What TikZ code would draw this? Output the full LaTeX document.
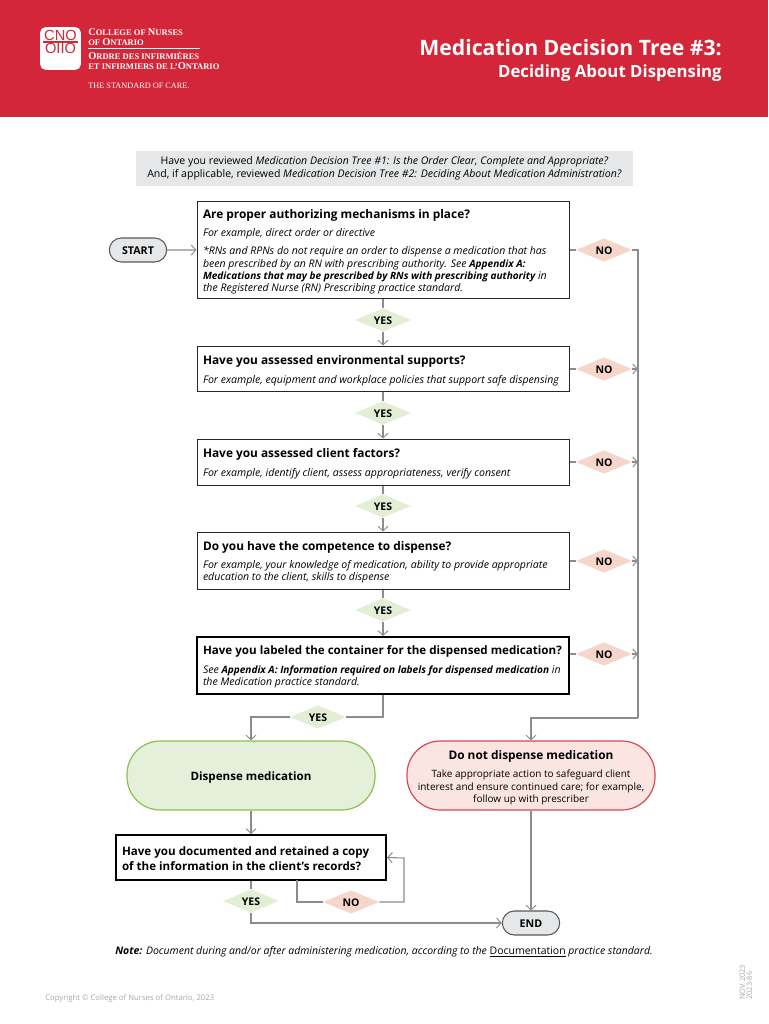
\documentclass[tikz,border=0pt]{standalone}
\usepackage{fontspec}
\setmainfont{Open Sans}
\newfontfamily\logofont{Liberation Serif}
\newfontfamily\logosans{Liberation Sans}
\usetikzlibrary{arrows.meta,shapes.geometric,shapes.misc}
\definecolor{cnored}{HTML}{D32638}
\definecolor{panelgrey}{HTML}{E6E7E8}
\definecolor{linegrey}{HTML}{8A8C8E}
\definecolor{yesfill}{HTML}{E3EED6}
\definecolor{nofill}{HTML}{F6D5CB}
\definecolor{greenline}{HTML}{8DC14F}
\definecolor{greenfill}{HTML}{E5F0DA}
\definecolor{redfill}{HTML}{FAE5E2}
\definecolor{textgrey}{HTML}{A7A9AC}
\newcommand{\hd}[1]{{\fontsize{8.9pt}{12pt}\selectfont\bfseries #1\par}}
\newcommand{\hdn}[1]{{\fontsize{8.7pt}{12pt}\selectfont\bfseries\mbox{#1}\par}}
\newcommand{\bd}{\fontsize{7.9pt}{9.2pt}\selectfont}
\newcommand{\bdb}[1]{{\fontsize{7.55pt}{9.2pt}\selectfont\bfseries #1}}
\newcommand{\qbox}[8]{% name, x1,y1,x2,y2, style, top pad, text
  \pgfmathsetmacro{\qw}{(#4-#2)*0.75}\pgfmathsetmacro{\qh}{(#5-#3)*0.75}%
  \pgfmathsetmacro{\qinner}{\qw-9}%
  \node[#6,minimum width=\qw pt,minimum height=\qh pt] (#1) at ({(#2+#4)/2},{(#3+#5)/2})
    {\parbox[c][\qh pt][t]{\qinner pt}{\raggedright\vspace{#7pt}#8}};}
\tikzset{
  question/.style={draw=black!85,line width=0.75pt,fill=white,inner sep=0pt,align=left},
  questionheavy/.style={question,draw=black,line width=1.5pt},
  conn/.style={draw=linegrey,line width=0.8pt},
  arr/.style={conn,-{Straight Barb[length=3.5pt,width=7.5pt,line width=0.7pt]}},
  yesd/.style={diamond,aspect=2.4,fill=yesfill,minimum width=42pt,minimum height=17.5pt,inner sep=0pt,text height=6pt,text depth=0pt,font=\fontsize{7.9pt}{9pt}\selectfont\bfseries},
  nod/.style={yesd,fill=nofill},
  term/.style={rounded rectangle,draw=black!65,line width=0.8pt,fill=panelgrey,minimum width=43pt,minimum height=18pt,inner sep=0pt,text height=6pt,text depth=0pt,font=\fontsize{8pt}{9pt}\selectfont\bfseries},
  outcome/.style={rectangle,rounded corners=25pt,line width=0.9pt,minimum width=186pt,minimum height=51.75pt,inner sep=0pt},
  logotext/.style={anchor=base west,inner sep=0pt,text=white,font=\logofont\bfseries\fontsize{6.4pt}{8pt}\selectfont},
  logomark/.style={inner sep=0pt,text=cnored,font=\logosans\fontsize{11pt}{11pt}\selectfont},
}
\newcommand{\lc}[1]{{\fontsize{7.8pt}{8pt}\selectfont #1}}
\begin{document}
\begin{tikzpicture}[x=0.75pt,y=-0.75pt]
\useasboundingbox (0,0) rectangle (768,1024);
\fill[white] (0,0) rectangle (768,1024);
\fill[cnored] (0,0) rectangle (768,117);
% logo
\node[draw=none,fill=white,rounded corners=4pt,minimum width=30.5pt,minimum height=32pt,inner sep=0pt] (logo) at (60.5,48.5) {};
\node[logomark] (logoa) at (60.5,35) {CNO};
\node[logomark] (logob) at (60.5,48.5) {OIIO};
\draw[cnored,line width=0.9pt] (43,42) -- (78,42);
\node[logotext] (l1) at (88,36) {\lc{C}OLLEGE OF \lc{N}URSES};
\node[logotext] (l2) at (88,46) {OF \lc{O}NTARIO};
\draw[white,line width=0.6pt] (88,48.5) -- (200,48.5);
\node[logotext] (l3) at (88,59.5) {\lc{O}RDRE DES INFIRMIÈRES};
\node[logotext] (l4) at (88,69.5) {ET INFIRMIERS DE L’\lc{O}NTARIO};
\node[logotext,font=\logofont\fontsize{6.2pt}{8pt}\selectfont] (l5) at (88,89) {THE STANDARD OF CARE.};
% title
\node[anchor=base east,inner sep=0pt,text=white,font=\fontsize{15.9pt}{20pt}\selectfont\bfseries] (title) at (722,55.5) {Medication Decision Tree \#3:};
\node[anchor=base east,inner sep=0pt,text=white,font=\fontsize{12.6pt}{16pt}\selectfont\bfseries] (subtitle) at (722,77.5) {Deciding About Dispensing};
% banner
\node[fill=panelgrey,minimum width=372.75pt,minimum height=26.25pt,inner sep=0pt,align=center,font=\fontsize{7.9pt}{9.6pt}\selectfont] (banner) at (384.5,168.5)
 {Have you reviewed \textit{Medication Decision Tree \#1: Is the Order Clear, Complete and Appropriate?}\\
  And, if applicable, reviewed \textit{Medication Decision Tree \#2: Deciding About Medication Administration?}};
% questions
\qbox{q1}{197}{201}{569}{298}{question}{6}{\hd{Are proper authorizing mechanisms in place?}\vspace{4.5pt}\bd\textit{For example, direct order or directive}\par\vspace{4.75pt}\textit{*RNs and RPNs do not require an order to dispense a medication that has\\ been prescribed by an RN with prescribing authority. See \bdb{Appendix A:}\\ \bdb{Medications that may be prescribed by RNs with prescribing authority} in\\ the Registered Nurse (RN) Prescribing practice standard.}}
\qbox{q2}{197}{346}{569}{391}{question}{6.75}{\hd{Have you assessed environmental supports?}\vspace{5.5pt}\bd\textit{For example, equipment and workplace policies that support safe dispensing}}
\qbox{q3}{197}{439}{569}{485}{question}{6.75}{\hd{Have you assessed client factors?}\vspace{5.5pt}\bd\textit{For example, identify client, assess appropriateness, verify consent}}
\qbox{q4}{197}{532}{569}{589}{question}{6.75}{\hd{Do you have the competence to dispense?}\vspace{4.75pt}\bd\textit{For example, your knowledge of medication, ability to provide appropriate\\ education to the client, skills to dispense}}
\qbox{q5}{197}{637}{569}{694}{questionheavy}{6.75}{\hdn{Have you labeled the container for the dispensed medication?}\vspace{4.75pt}\bd\textit{See \bdb{Appendix A: Information required on labels for dispensed medication} in\\ the Medication practice standard.}}
\qbox{q6}{116}{835}{386}{880}{questionheavy}{8.5}{{\fontsize{8.7pt}{11.5pt}\selectfont\bfseries Have you documented and retained a copy\\ of the information in the client’s records?\par}}
% decisions
\node[yesd] (y1) at (383,320) {YES};
\node[yesd] (y2) at (383,413) {YES};
\node[yesd] (y3) at (383,506) {YES};
\node[yesd] (y4) at (383,610) {YES};
\node[yesd] (y5) at (318,717) {YES};
\node[yesd] (y6) at (251,901) {YES};
\node[nod] (n1) at (604,250) {NO};
\node[nod] (n2) at (604,369) {NO};
\node[nod] (n3) at (604,462) {NO};
\node[nod] (n4) at (604,561) {NO};
\node[nod] (n5) at (604,654) {NO};
\node[nod] (n6) at (351,902) {NO};
% terminals
\node[term] (start) at (138,250) {START};
\node[term] (end) at (531,923) {END};
\node[outcome,draw=greenline,fill=greenfill,text height=7pt,text depth=0pt,font=\fontsize{8.7pt}{11pt}\selectfont\bfseries] (disp) at (251,775.5) {Dispense medication};
\node[outcome,draw=cnored!85,fill=redfill,align=center,font=\fontsize{7.5pt}{9.4pt}\selectfont] (nodisp) at (531,775.5)
 {\rule{0pt}{10.25pt}{\fontsize{8.9pt}{9.4pt}\selectfont\bfseries Do not dispense medication}\\[4pt]
  Take appropriate action to safeguard client\\ interest and ensure continued care; for example,\\ follow up with prescriber};
% rail and connector corners
\coordinate (railtop) at (638,250);
\coordinate (railend) at (638,718);
\coordinate (d1) at (383,717);
\coordinate (d2) at (297,880);
% connectors
\draw[arr] (start) -- (q1.west |- start);
\draw[conn] (q1.south) -- (y1.north);
\draw[arr] (y1.south) -- (q2.north);
\draw[conn] (q2.south) -- (y2.north);
\draw[arr] (y2.south) -- (q3.north);
\draw[conn] (q3.south) -- (y3.north);
\draw[arr] (y3.south) -- (q4.north);
\draw[conn] (q4.south) -- (y4.north);
\draw[arr] (y4.south) -- (q5.north);
\draw[conn] (q1.east |- n1) -- (n1.west);
\draw[conn] (q2.east |- n2) -- (n2.west);
\draw[conn] (q3.east |- n3) -- (n3.west);
\draw[conn] (q4.east |- n4) -- (n4.west);
\draw[conn] (q5.east |- n5) -- (n5.west);
\draw[conn] (n1.east) -- (railtop) -- (railend);
\draw[arr] (n2.east) -- (railend |- n2);
\draw[arr] (n3.east) -- (railend |- n3);
\draw[arr] (n4.east) -- (railend |- n4);
\draw[arr] (n5.east) -- (railend |- n5);
\draw[arr] (railend) -- (nodisp.north |- railend) -- (nodisp.north);
\draw[conn] (q5.south -| d1) -- (d1) -- (y5.east);
\draw[arr] (y5.west) -- (disp.north |- y5) -- (disp.north);
\draw[arr] (disp.south) -- (q6.north);
\draw[conn] (q6.south) -- (y6.north);
\draw[arr] (y6.south) |- (end.west);
\draw[conn] (d2) |- (n6.west);
\draw[arr] (n6.east) -| (404,858) -- (q6.east);
\draw[arr] (nodisp.south) -- (end.north);
% notes
\node[anchor=base west,inner sep=0pt,font=\fontsize{7.85pt}{9.6pt}\selectfont] (note) at (115,954) {\textit{\textbf{Note:} Document during and/or after administering medication, according to the} \underline{Documentation} \textit{practice standard.}};
\node[anchor=base west,inner sep=0pt,text=textgrey,font=\fontsize{5.8pt}{7pt}\selectfont] (copy) at (45,1000) {Copyright © College of Nurses of Ontario, 2023};
\node[anchor=base west,rotate=90,inner sep=0pt,text=textgrey,font=\fontsize{5.6pt}{6pt}\selectfont] (code1) at (745,1000) {NOV 2023};
\node[anchor=base west,rotate=90,inner sep=0pt,text=textgrey,font=\fontsize{5.6pt}{6pt}\selectfont] (code2) at (752,1000) {2023-86};
\end{tikzpicture}
\end{document}
